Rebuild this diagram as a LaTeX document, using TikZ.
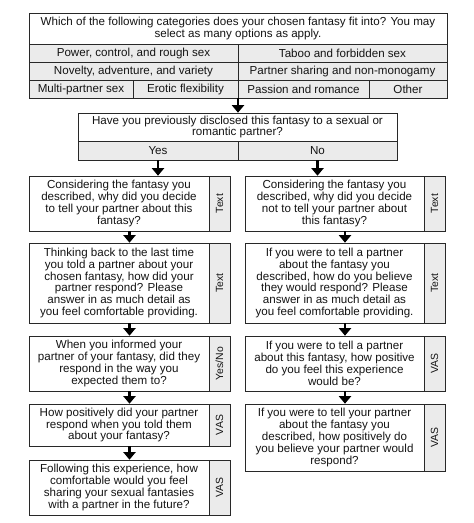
\documentclass[tikz,border=0pt]{standalone}
\usepackage{fontspec}
\usepackage{graphicx}
\setmainfont{Liberation Sans}
\usetikzlibrary{arrows.meta,calc}
\definecolor{cellgray}{RGB}{235,235,235}
\definecolor{bordercol}{RGB}{40,40,40}
\definecolor{txtcol}{RGB}{20,20,20}
\newcommand\qfont{\fontsize{11.6}{11.8}\selectfont}
\newcommand\tagfont{\fontsize{10.4}{12}\selectfont}
\tikzset{
  frame/.style={draw=bordercol, line width=1pt, inner sep=0pt, outer sep=0pt, text=txtcol, font=\qfont, align=center},
  cell/.style={frame, fill=cellgray},
  tagbox/.style={frame, fill=cellgray, minimum width=21pt, anchor=north east, font=\tagfont},
  qtext/.style={inner sep=0pt, text=txtcol, font=\qfont, align=center},
  arr/.style={line width=2.4pt, black, -{Triangle[width=12pt,length=7.5pt]}, shorten >=0.3pt}
}
\begin{document}
\begin{tikzpicture}[x=1pt,y=-1pt]
\useasboundingbox[fill=white] (0,0) rectangle (474,523);

% top categories box
\node[frame, minimum width=418, minimum height=31] (cq) at (238,28.5)
  {Which of the following categories does your chosen fantasy fit into? You may\\select as many options as apply.};
\node[cell, minimum width=209, minimum height=18] (c1a) at (133.5,53) {Power, control, and rough sex};
\node[cell, minimum width=209, minimum height=18] (c1b) at (342.5,53) {Taboo and forbidden sex};
\node[cell, minimum width=209, minimum height=18] (c2a) at (133.5,71) {Novelty, adventure, and variety};
\node[cell, minimum width=209, minimum height=18] (c2b) at (342.5,71) {Partner sharing and non-monogamy};
\node[cell, minimum width=104, minimum height=18] (c3a) at (81,89) {Multi-partner sex};
\node[cell, minimum width=105, minimum height=18] (c3b) at (185.5,89) {Erotic flexibility};
\node[cell, minimum width=131, minimum height=18] (c3c) at (303.5,89) {Passion and romance};
\node[cell, minimum width=78, minimum height=18] (c3d) at (408,89) {Other};

% disclosure box
\node[frame, minimum width=319, minimum height=28] (dq) at (237.5,127)
  {Have you previously disclosed this fantasy to a sexual or\\romantic partner?};
\node[cell, minimum width=160, minimum height=19] (yes) at (158,150.5) {Yes};
\node[cell, minimum width=159, minimum height=19] (no) at (317.5,150.5) {No};

% left column
\node[frame, minimum width=201, minimum height=55] (l1) at (129.5,203.5) {};
\node[tagbox, minimum height=55] (l1t) at (l1.north east) {\rotatebox{90}{Text}};
\node[qtext] (l1q) at ($(l1.west)!0.5!(l1t.west)$) {Considering the fantasy you\\described, why did you decide\\to tell your partner about this\\fantasy?};

\node[frame, minimum width=201, minimum height=80] (l2) at (129.5,283) {};
\node[tagbox, minimum height=80] (l2t) at (l2.north east) {\rotatebox{90}{Text}};
\node[qtext] (l2q) at ($(l2.west)!0.5!(l2t.west)$) {Thinking back to the last time\\you told a partner about your\\chosen fantasy, how did your\\partner respond? Please\\answer in as much detail as\\you feel comfortable providing.};

\node[frame, minimum width=201, minimum height=55] (l3) at (129.5,363.5) {};
\node[tagbox, minimum height=55] (l3t) at (l3.north east) {\rotatebox{90}{Yes/No}};
\node[qtext] (l3q) at ($(l3.west)!0.5!(l3t.west)$) {When you informed your\\partner of your fantasy, did they\\respond in the way you\\expected them to?};

\node[frame, minimum width=201, minimum height=42] (l4) at (129.5,425) {};
\node[tagbox, minimum height=42] (l4t) at (l4.north east) {\rotatebox{90}{VAS}};
\node[qtext] (l4q) at ($(l4.west)!0.5!(l4t.west)$) {How positively did your partner\\respond when you told them\\about your fantasy?};

\node[frame, minimum width=201, minimum height=55] (l5) at (129.5,487.5) {};
\node[tagbox, minimum height=55] (l5t) at (l5.north east) {\rotatebox{90}{VAS}};
\node[qtext] (l5q) at ($(l5.west)!0.5!(l5t.west)$) {Following this experience, how\\comfortable would you feel\\sharing your sexual fantasies\\with a partner in the future?};

% right column
\node[frame, minimum width=200, minimum height=55] (r1) at (345,203.5) {};
\node[tagbox, minimum height=55] (r1t) at (r1.north east) {\rotatebox{90}{Text}};
\node[qtext] (r1q) at ($(r1.west)!0.5!(r1t.west)$) {Considering the fantasy you\\described, why did you decide\\not to tell your partner about\\this fantasy?};

\node[frame, minimum width=200, minimum height=80] (r2) at (345,283) {};
\node[tagbox, minimum height=80] (r2t) at (r2.north east) {\rotatebox{90}{Text}};
\node[qtext] (r2q) at ($(r2.west)!0.5!(r2t.west)$) {If you were to tell a partner\\about the fantasy you\\described, how do you believe\\they would respond? Please\\answer in as much detail as\\you feel comfortable providing.};

\node[frame, minimum width=200, minimum height=55] (r3) at (345,363.5) {};
\node[tagbox, minimum height=55] (r3t) at (r3.north east) {\rotatebox{90}{VAS}};
\node[qtext] (r3q) at ($(r3.west)!0.5!(r3t.west)$) {If you were to tell a partner\\about this fantasy, how positive\\do you feel this experience\\would be?};

\node[frame, minimum width=200, minimum height=67] (r4) at (345,437.5) {};
\node[tagbox, minimum height=67] (r4t) at (r4.north east) {\rotatebox{90}{VAS}};
\node[qtext] (r4q) at ($(r4.west)!0.5!(r4t.west)$) {If you were to tell your partner\\about the fantasy you\\described, how positively do\\you believe your partner would\\respond?};

% arrows
\draw[arr] (c3b.south east) -- (c3b.south east |- dq.north);
\draw[arr] (yes.south) -- (yes.south |- l1.north);
\draw[arr] (no.south) -- (no.south |- r1.north);
\draw[arr] (l1.south) -- (l2.north);
\draw[arr] (l2.south) -- (l3.north);
\draw[arr] (l3.south) -- (l4.north);
\draw[arr] (l4.south) -- (l5.north);
\draw[arr] (r1.south) -- (r2.north);
\draw[arr] (r2.south) -- (r3.north);
\draw[arr] (r3.south) -- (r4.north);
\end{tikzpicture}
\end{document}
